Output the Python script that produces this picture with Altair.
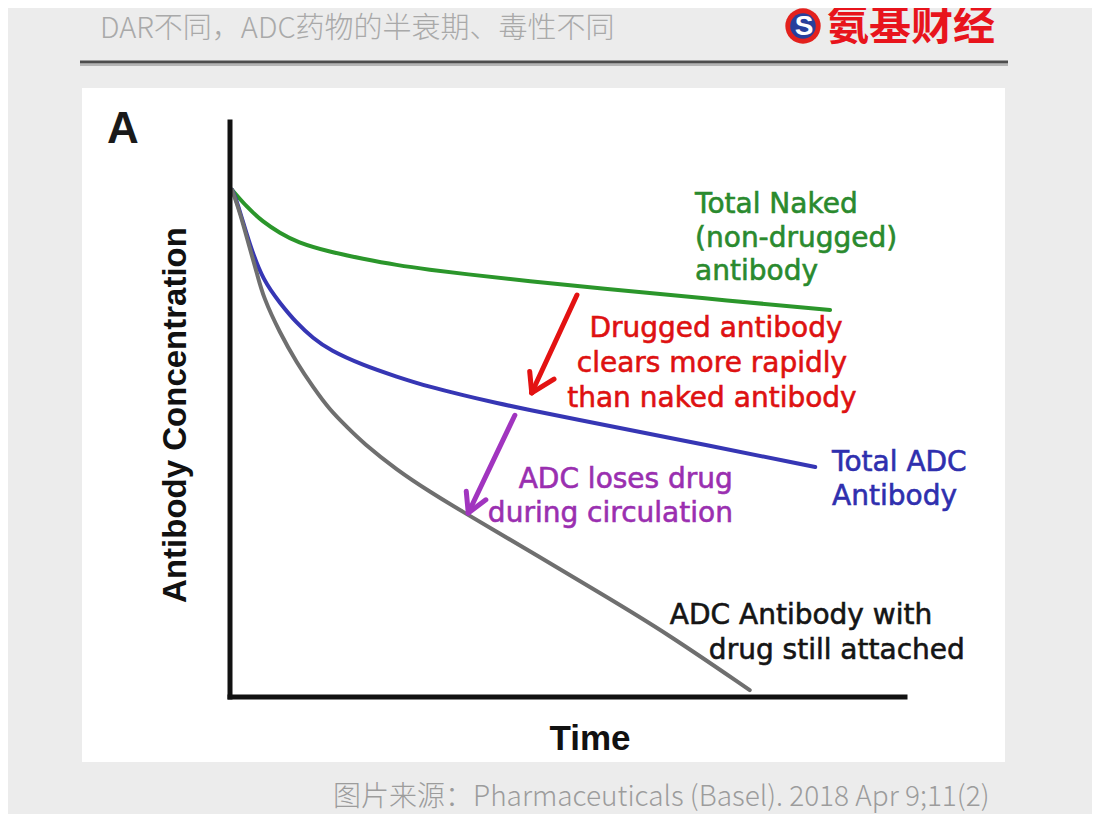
import altair as alt
import pandas as pd

# ---- curves: time (arbitrary units 0-100) vs antibody concentration (arbitrary units 0-100)
naked_t = [0.3, 2.5, 4.9, 7.4, 9.9, 14.8, 19.7, 24.7, 29.6, 34.5, 44.4, 54.8, 69.6, 88.9]
naked_c = [88.2, 85.2, 82.6, 80.7, 79.1, 77.4, 76.2, 75.1, 74.3, 73.6, 72.3, 71.1, 69.4, 67.3]

adc_t = [0.3, 1.0, 3.0, 4.9, 7.4, 9.9, 12.3, 14.8, 19.7, 24.7, 29.6, 34.5, 39.6, 44.4,
         50.4, 64.7, 86.7]
adc_c = [88.2, 86.4, 78.3, 72.5, 68.5, 65.0, 62.4, 60.3, 57.7, 55.7, 53.9, 52.5, 51.1, 49.9,
         48.5, 45.2, 40.0]

drug_t = [0.3, 1.5, 3.0, 4.0, 4.9, 7.4, 9.9, 12.3, 14.8, 17.3, 19.7, 24.7, 29.6, 34.5,
          39.6, 44.9, 54.8, 64.7, 77.0]
drug_c = [88.2, 84.2, 77.7, 73.7, 69.6, 63.3, 58.1, 53.9, 49.9, 47.0, 44.2, 39.5, 35.7, 32.2,
          28.7, 25.0, 18.1, 11.1, 1.2]

series_names = ["Total Naked", "Total ADC", "ADC with drug"]
series_colors = ["#2b962b", "#3636b4", "#6f6f6f"]

# ---- arrows (data coordinates): shaft + two head wings, each ending at the tip
red_arrow_from = [(51.4, 69.9), (48.0, 55.3), (44.4, 56.6)]
red_arrow_tip = (44.7, 52.9)
purple_arrow_from = [(42.2, 49.0), (37.9, 34.3), (35.0, 35.8)]
purple_arrow_tip = (35.3, 32.0)

# ---- annotation texts (lines), anchor positions in data coordinates
green_lines = ["Total Naked", "(non-drugged)", "antibody"]
green_pos = [(68.9, 84.2), (68.9, 78.3), (68.9, 72.5)]
red_lines = ["Drugged antibody", "clears more rapidly", "than naked antibody"]
red_pos = [(72.0, 62.6), (71.4, 56.5), (71.4, 50.4)]
purple_lines = ["ADC loses drug", "during circulation"]
purple_pos = [(74.5, 36.3), (74.5, 30.4)]
blue_lines = ["Total ADC", "Antibody"]
blue_pos = [(89.2, 39.3), (89.2, 33.4)]
black_lines = ["ADC Antibody with", "drug still attached"]
black_pos = [(84.6, 12.7), (89.9, 6.6)]

header_text = "DAR不同，ADC药物的半衰期、毒性不同"
logo_text = "氨基财经"
caption_text = "图片来源：Pharmaceuticals (Basel). 2018 Apr 9;11(2)"

W, H = 1084, 806
xs = alt.Scale(domain=[0, 100], range=[222, 897], nice=False, zero=False)
ys = alt.Scale(domain=[0, 100], range=[689, 114], nice=False, zero=False)

one = pd.DataFrame({"k": [0]})

# background panel
panel = alt.Chart(one).mark_rect(color="white").encode(
    x=alt.value(74), x2=alt.value(997), y=alt.value(80), y2=alt.value(754))

# header
hline = alt.Chart(one).mark_rule(color="#4d4d4d", strokeWidth=3).encode(
    x=alt.value(72), x2=alt.value(1000), y=alt.value(54))
hline2 = alt.Chart(one).mark_rule(color="#b5b5b5", strokeWidth=2).encode(
    x=alt.value(72), x2=alt.value(1000), y=alt.value(57))
htext = alt.Chart(one).mark_text(
    text=header_text, font="Noto Sans CJK SC", fontSize=29, fontWeight=300,
    color="#a9a9a9", align="left", baseline="middle").encode(
    x=alt.value(92), y=alt.value(21))
logo_outer = alt.Chart(one).mark_point(filled=True, shape="circle", size=1250,
                                       color="#e3211d", opacity=1).encode(
    x=alt.value(795), y=alt.value(18))
logo_inner = alt.Chart(one).mark_point(filled=True, shape="circle", size=650,
                                       color="#27409c", opacity=1).encode(
    x=alt.value(795), y=alt.value(18))
logo_s = alt.Chart(one).mark_text(text="S", font="Liberation Sans", fontWeight="bold",
                                  fontSize=28, color="white", align="center",
                                  baseline="middle").encode(
    x=alt.value(796), y=alt.value(19))
logo = alt.Chart(one).mark_text(
    text=logo_text, font="Noto Sans CJK SC", fontSize=42, fontWeight="bold",
    color="#e8141c", align="left", baseline="middle").encode(
    x=alt.value(819), y=alt.value(19))
caption = alt.Chart(one).mark_text(
    text=caption_text, font="Noto Sans CJK SC", fontSize=28, fontWeight=300,
    color="#9c9c9c", align="left", baseline="middle").encode(
    x=alt.value(325), y=alt.value(790))

# axes drawn as thick rules
axes_df = pd.DataFrame({"t": [0, 0], "c": [0, 0], "t2": [0, 100], "c2": [100, 0]})
axes = alt.Chart(axes_df).mark_rule(color="#111111", strokeWidth=5, strokeCap="square").encode(
    x=alt.X("t:Q", scale=xs, axis=None), y=alt.Y("c:Q", scale=ys, axis=None),
    x2="t2:Q", y2="c2:Q")

# curves
rows = []
for name, ts, cs in zip(series_names, [naked_t, adc_t, drug_t], [naked_c, adc_c, drug_c]):
    for i, (t, c) in enumerate(zip(ts, cs)):
        rows.append({"series": name, "t": t, "c": c, "o": i})
curves_df = pd.DataFrame(rows)
curves = alt.Chart(curves_df).mark_line(strokeWidth=4, interpolate="basis",
                                        strokeCap="round").encode(
    x=alt.X("t:Q", scale=xs, axis=None), y=alt.Y("c:Q", scale=ys, axis=None),
    color=alt.Color("series:N", scale=alt.Scale(domain=series_names, range=series_colors),
                    legend=None),
    order="o:Q")

# arrows
arows = []
for col, froms, tip in [("#e31212", red_arrow_from, red_arrow_tip),
                        ("#a135bf", purple_arrow_from, purple_arrow_tip)]:
    for (t, c) in froms:
        arows.append({"t": t, "c": c, "t2": tip[0], "c2": tip[1], "col": col})
arrows = alt.Chart(pd.DataFrame(arows)).mark_rule(strokeWidth=5, strokeCap="round").encode(
    x=alt.X("t:Q", scale=xs, axis=None), y=alt.Y("c:Q", scale=ys, axis=None),
    x2="t2:Q", y2="c2:Q", color=alt.Color("col:N", scale=None))


def label_layer(lines, pos, color, align):
    df = pd.DataFrame({"txt": lines, "t": [p[0] for p in pos], "c": [p[1] for p in pos]})
    return alt.Chart(df).mark_text(font="DejaVu Sans", fontSize=28, color=color,
                                   stroke=color, strokeWidth=0.6,
                                   align=align, baseline="alphabetic").encode(
        x=alt.X("t:Q", scale=xs, axis=None), y=alt.Y("c:Q", scale=ys, axis=None),
        text="txt:N")


labels = [
    label_layer(green_lines, green_pos, "#2a8a2e", "left"),
    label_layer(red_lines, red_pos, "#de1111", "center"),
    label_layer(purple_lines, purple_pos, "#9a2fb0", "right"),
    label_layer(blue_lines, blue_pos, "#2f2fae", "left"),
    label_layer(black_lines, black_pos, "#151515", "center"),
]

# axis titles and panel letter
time_title = alt.Chart(one).mark_text(text="Time", font="Liberation Sans", fontWeight="bold",
                                      fontSize=35, color="#111111", align="center",
                                      baseline="alphabetic").encode(
    x=alt.value(582), y=alt.value(742))
y_title = alt.Chart(one).mark_text(text="Antibody Concentration", font="Liberation Sans",
                                   fontWeight="bold", fontSize=33, color="#111111",
                                   align="center", baseline="middle", angle=270).encode(
    x=alt.value(168), y=alt.value(407))
letter = alt.Chart(one).mark_text(text="A", font="Liberation Sans", fontWeight="bold",
                                  fontSize=44, color="#1a1a1a", align="left",
                                  baseline="alphabetic").encode(
    x=alt.value(99), y=alt.value(135))

chart = alt.layer(
    panel, hline2, hline, htext, logo_outer, logo_inner, logo_s, logo, caption,
    curves, axes, arrows, *labels, time_title, y_title, letter
).properties(
    width=W, height=H, padding=0,
    autosize=alt.AutoSizeParams(type="none"),
    background="#ececec",
).configure_view(stroke=None)

chart.save("out.html", embed_options={"renderer": "svg", "actions": False})
